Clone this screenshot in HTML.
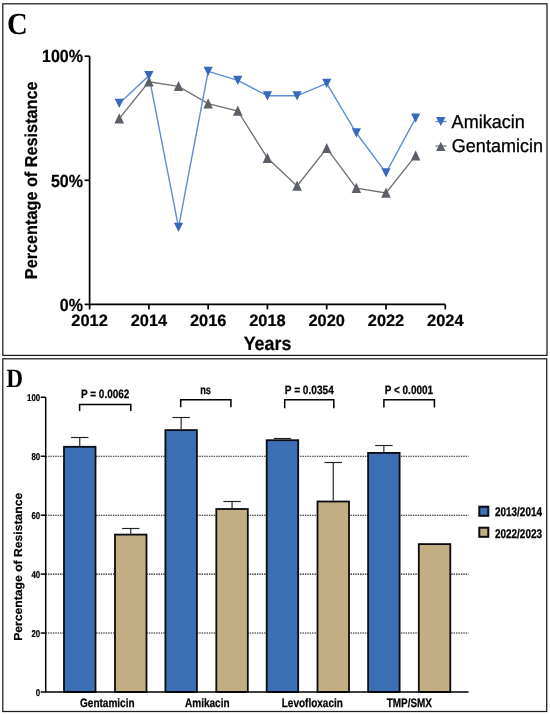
<!DOCTYPE html>
<html><head><meta charset="utf-8"><title>Percentage of Resistance</title>
<style>html,body{margin:0;padding:0;background:#fff;}svg{display:block;text-rendering:geometricPrecision;}</style></head>
<body><svg width="550" height="715" viewBox="0 0 550 715">
<rect width="550" height="715" fill="#fff"/>
<rect x="2.8" y="3.8" width="544.2" height="351.6" fill="none" stroke="#1e1e1e" stroke-width="1.25"/>
<text x="0" y="0" transform="translate(7.0,34.0) scale(0.94,1)" font-family='"Liberation Serif", "Times New Roman", serif' font-weight="bold" font-size="30.5">C</text>
<polyline points="119.24,118.60 148.88,81.80 178.52,86.30 208.16,103.60 237.80,111.00 267.44,158.10 297.08,186.00 326.72,148.30 356.36,188.10 386.00,193.00 415.64,155.70" fill="none" stroke="#727272" stroke-width="1.35"/>
<polyline points="119.24,103.40 148.88,75.70 178.52,227.40 208.16,71.30 237.80,80.40 267.44,95.80 297.08,95.80 326.72,83.40 356.36,133.00 386.00,172.80 415.64,118.20" fill="none" stroke="#5d8dd4" stroke-width="1.4"/>
<polygon points="114.49,123.40 123.99,123.40 119.24,113.20" fill="#5b6068"/>
<polygon points="144.13,86.60 153.63,86.60 148.88,76.40" fill="#5b6068"/>
<polygon points="173.77,91.10 183.27,91.10 178.52,80.90" fill="#5b6068"/>
<polygon points="203.41,108.40 212.91,108.40 208.16,98.20" fill="#5b6068"/>
<polygon points="233.05,115.80 242.55,115.80 237.80,105.60" fill="#5b6068"/>
<polygon points="262.69,162.90 272.19,162.90 267.44,152.70" fill="#5b6068"/>
<polygon points="292.33,190.80 301.83,190.80 297.08,180.60" fill="#5b6068"/>
<polygon points="321.97,153.10 331.47,153.10 326.72,142.90" fill="#5b6068"/>
<polygon points="351.61,192.90 361.11,192.90 356.36,182.70" fill="#5b6068"/>
<polygon points="381.25,197.80 390.75,197.80 386.00,187.60" fill="#5b6068"/>
<polygon points="410.89,160.50 420.39,160.50 415.64,150.30" fill="#5b6068"/>
<polygon points="114.64,98.75 123.84,98.75 119.24,108.05" fill="#3868be"/>
<polygon points="144.28,71.05 153.48,71.05 148.88,80.35" fill="#3868be"/>
<polygon points="173.92,222.75 183.12,222.75 178.52,232.05" fill="#3868be"/>
<polygon points="203.56,66.65 212.76,66.65 208.16,75.95" fill="#3868be"/>
<polygon points="233.20,75.75 242.40,75.75 237.80,85.05" fill="#3868be"/>
<polygon points="262.84,91.15 272.04,91.15 267.44,100.45" fill="#3868be"/>
<polygon points="292.48,91.15 301.68,91.15 297.08,100.45" fill="#3868be"/>
<polygon points="322.12,78.75 331.32,78.75 326.72,88.05" fill="#3868be"/>
<polygon points="351.76,128.35 360.96,128.35 356.36,137.65" fill="#3868be"/>
<polygon points="381.40,168.15 390.60,168.15 386.00,177.45" fill="#3868be"/>
<polygon points="411.04,113.55 420.24,113.55 415.64,122.85" fill="#3868be"/>
<path d="M89.6,56.20 V304.4 H445.28" fill="none" stroke="#000" stroke-width="1.7"/>
<line x1="84.60" y1="56.20" x2="89.6" y2="56.20" stroke="#000" stroke-width="1.7"/>
<text x="0" y="0" transform="translate(83.00,62.40) scale(0.91,1)" text-anchor="end" font-family='"Liberation Sans", Arial, sans-serif' font-weight="bold" font-size="17.6" stroke="#000" stroke-width="0.22">100%</text>
<line x1="84.60" y1="180.30" x2="89.6" y2="180.30" stroke="#000" stroke-width="1.7"/>
<text x="0" y="0" transform="translate(83.00,186.50) scale(0.91,1)" text-anchor="end" font-family='"Liberation Sans", Arial, sans-serif' font-weight="bold" font-size="17.6" stroke="#000" stroke-width="0.22">50%</text>
<line x1="84.60" y1="304.40" x2="89.6" y2="304.40" stroke="#000" stroke-width="1.7"/>
<text x="0" y="0" transform="translate(83.00,310.60) scale(0.91,1)" text-anchor="end" font-family='"Liberation Sans", Arial, sans-serif' font-weight="bold" font-size="17.6" stroke="#000" stroke-width="0.22">0%</text>
<line x1="89.60" y1="304.4" x2="89.60" y2="309.4" stroke="#000" stroke-width="1.7"/>
<text x="0" y="0" transform="translate(89.60,326.30) scale(1.0,1)" text-anchor="middle" font-family='"Liberation Sans", Arial, sans-serif' font-weight="bold" font-size="16.4" stroke="#000" stroke-width="0.22">2012</text>
<line x1="148.88" y1="304.4" x2="148.88" y2="309.4" stroke="#000" stroke-width="1.7"/>
<text x="0" y="0" transform="translate(148.88,326.30) scale(1.0,1)" text-anchor="middle" font-family='"Liberation Sans", Arial, sans-serif' font-weight="bold" font-size="16.4" stroke="#000" stroke-width="0.22">2014</text>
<line x1="208.16" y1="304.4" x2="208.16" y2="309.4" stroke="#000" stroke-width="1.7"/>
<text x="0" y="0" transform="translate(208.16,326.30) scale(1.0,1)" text-anchor="middle" font-family='"Liberation Sans", Arial, sans-serif' font-weight="bold" font-size="16.4" stroke="#000" stroke-width="0.22">2016</text>
<line x1="267.44" y1="304.4" x2="267.44" y2="309.4" stroke="#000" stroke-width="1.7"/>
<text x="0" y="0" transform="translate(267.44,326.30) scale(1.0,1)" text-anchor="middle" font-family='"Liberation Sans", Arial, sans-serif' font-weight="bold" font-size="16.4" stroke="#000" stroke-width="0.22">2018</text>
<line x1="326.72" y1="304.4" x2="326.72" y2="309.4" stroke="#000" stroke-width="1.7"/>
<text x="0" y="0" transform="translate(326.72,326.30) scale(1.0,1)" text-anchor="middle" font-family='"Liberation Sans", Arial, sans-serif' font-weight="bold" font-size="16.4" stroke="#000" stroke-width="0.22">2020</text>
<line x1="386.00" y1="304.4" x2="386.00" y2="309.4" stroke="#000" stroke-width="1.7"/>
<text x="0" y="0" transform="translate(386.00,326.30) scale(1.0,1)" text-anchor="middle" font-family='"Liberation Sans", Arial, sans-serif' font-weight="bold" font-size="16.4" stroke="#000" stroke-width="0.22">2022</text>
<line x1="445.28" y1="304.4" x2="445.28" y2="309.4" stroke="#000" stroke-width="1.7"/>
<text x="0" y="0" transform="translate(445.28,326.30) scale(1.0,1)" text-anchor="middle" font-family='"Liberation Sans", Arial, sans-serif' font-weight="bold" font-size="16.4" stroke="#000" stroke-width="0.22">2024</text>
<text x="0" y="0" transform="translate(267.50,350.00) scale(0.93,1)" text-anchor="middle" font-family='"Liberation Sans", Arial, sans-serif' font-weight="bold" font-size="19.2" stroke="#000" stroke-width="0.22">Years</text>
<text transform="translate(37.4,180.3) rotate(-90) scale(0.94,1)" text-anchor="middle" font-family='"Liberation Sans", Arial, sans-serif' font-weight="bold" font-size="17.3" stroke="#000" stroke-width="0.22">Percentage of Resistance</text>
<line x1="435.5" y1="121.5" x2="446.5" y2="121.5" stroke="#5d8dd4" stroke-width="1.3"/>
<polygon points="436.10,116.90 445.50,116.90 440.80,126.10" fill="#3868be"/>
<line x1="435.5" y1="146" x2="446.5" y2="146" stroke="#727272" stroke-width="1.3"/>
<polygon points="436.10,150.90 445.50,150.90 440.80,141.70" fill="#5b6068"/>
<text x="0" y="0" transform="translate(451.60,127.90) scale(0.975,1)" text-anchor="start" font-family='"Liberation Sans", Arial, sans-serif' font-size="18.5" stroke="#000" stroke-width="0.3">Amikacin</text>
<text x="0" y="0" transform="translate(451.80,152.00) scale(0.975,1)" text-anchor="start" font-family='"Liberation Sans", Arial, sans-serif' font-size="18.5" stroke="#000" stroke-width="0.3">Gentamicin</text>
<rect x="2.8" y="358.8" width="543.9" height="352.7" fill="none" stroke="#1e1e1e" stroke-width="1.25"/>
<text x="0" y="0" transform="translate(6.2,386.6) scale(0.88,1)" font-family='"Liberation Serif", "Times New Roman", serif' font-weight="bold" font-size="26.5">D</text>
<line x1="45.7" y1="633.06" x2="468.6" y2="633.06" stroke="#111" stroke-width="1.1" stroke-dasharray="1.4,1.0"/>
<line x1="45.7" y1="574.12" x2="468.6" y2="574.12" stroke="#111" stroke-width="1.1" stroke-dasharray="1.4,1.0"/>
<line x1="45.7" y1="515.18" x2="468.6" y2="515.18" stroke="#111" stroke-width="1.1" stroke-dasharray="1.4,1.0"/>
<line x1="45.7" y1="456.24" x2="468.6" y2="456.24" stroke="#111" stroke-width="1.1" stroke-dasharray="1.4,1.0"/>
<line x1="79.75" y1="437.50" x2="79.75" y2="445.90" stroke="#222" stroke-width="1.15"/>
<line x1="71.05" y1="437.50" x2="88.45" y2="437.50" stroke="#222" stroke-width="1.15"/>
<rect x="64.00" y="446.80" width="31.50" height="245.20" fill="#3c6eb4" stroke="#0b0b12" stroke-width="1.8"/>
<line x1="130.75" y1="528.50" x2="130.75" y2="533.70" stroke="#222" stroke-width="1.15"/>
<line x1="122.05" y1="528.50" x2="139.45" y2="528.50" stroke="#222" stroke-width="1.15"/>
<rect x="115.00" y="534.60" width="31.50" height="157.40" fill="#c3ad82" stroke="#0b0b12" stroke-width="1.8"/>
<line x1="181.15" y1="417.50" x2="181.15" y2="429.20" stroke="#222" stroke-width="1.15"/>
<line x1="172.45" y1="417.50" x2="189.85" y2="417.50" stroke="#222" stroke-width="1.15"/>
<rect x="165.40" y="430.10" width="31.50" height="261.90" fill="#3c6eb4" stroke="#0b0b12" stroke-width="1.8"/>
<line x1="232.05" y1="501.50" x2="232.05" y2="508.10" stroke="#222" stroke-width="1.15"/>
<line x1="223.35" y1="501.50" x2="240.75" y2="501.50" stroke="#222" stroke-width="1.15"/>
<rect x="216.30" y="509.00" width="31.50" height="183.00" fill="#c3ad82" stroke="#0b0b12" stroke-width="1.8"/>
<line x1="282.45" y1="438.50" x2="282.45" y2="439.30" stroke="#222" stroke-width="1.15"/>
<line x1="273.75" y1="438.50" x2="291.15" y2="438.50" stroke="#222" stroke-width="1.15"/>
<rect x="266.70" y="440.20" width="31.50" height="251.80" fill="#3c6eb4" stroke="#0b0b12" stroke-width="1.8"/>
<line x1="333.25" y1="462.50" x2="333.25" y2="500.60" stroke="#222" stroke-width="1.15"/>
<line x1="324.55" y1="462.50" x2="341.95" y2="462.50" stroke="#222" stroke-width="1.15"/>
<rect x="317.50" y="501.50" width="31.50" height="190.50" fill="#c3ad82" stroke="#0b0b12" stroke-width="1.8"/>
<line x1="383.85" y1="445.50" x2="383.85" y2="452.00" stroke="#222" stroke-width="1.15"/>
<line x1="375.15" y1="445.50" x2="392.55" y2="445.50" stroke="#222" stroke-width="1.15"/>
<rect x="368.10" y="452.90" width="31.50" height="239.10" fill="#3c6eb4" stroke="#0b0b12" stroke-width="1.8"/>
<rect x="418.80" y="544.10" width="31.50" height="147.90" fill="#c3ad82" stroke="#0b0b12" stroke-width="1.8"/>
<path d="M45.7,397.30 V692.0 H468.6" fill="none" stroke="#000" stroke-width="1.5"/>
<line x1="40.70" y1="692.00" x2="45.7" y2="692.00" stroke="#000" stroke-width="1.5"/>
<text x="40.2" y="695.60" text-anchor="end" font-family='"Liberation Sans", Arial, sans-serif' font-weight="bold" font-size="9.9" stroke="#000" stroke-width="0.2" transform="translate(40.2,0) scale(0.8,1) translate(-40.2,0)">0</text>
<line x1="40.70" y1="633.06" x2="45.7" y2="633.06" stroke="#000" stroke-width="1.5"/>
<text x="40.2" y="636.66" text-anchor="end" font-family='"Liberation Sans", Arial, sans-serif' font-weight="bold" font-size="9.9" stroke="#000" stroke-width="0.2" transform="translate(40.2,0) scale(0.8,1) translate(-40.2,0)">20</text>
<line x1="40.70" y1="574.12" x2="45.7" y2="574.12" stroke="#000" stroke-width="1.5"/>
<text x="40.2" y="577.72" text-anchor="end" font-family='"Liberation Sans", Arial, sans-serif' font-weight="bold" font-size="9.9" stroke="#000" stroke-width="0.2" transform="translate(40.2,0) scale(0.8,1) translate(-40.2,0)">40</text>
<line x1="40.70" y1="515.18" x2="45.7" y2="515.18" stroke="#000" stroke-width="1.5"/>
<text x="40.2" y="518.78" text-anchor="end" font-family='"Liberation Sans", Arial, sans-serif' font-weight="bold" font-size="9.9" stroke="#000" stroke-width="0.2" transform="translate(40.2,0) scale(0.8,1) translate(-40.2,0)">60</text>
<line x1="40.70" y1="456.24" x2="45.7" y2="456.24" stroke="#000" stroke-width="1.5"/>
<text x="40.2" y="459.84" text-anchor="end" font-family='"Liberation Sans", Arial, sans-serif' font-weight="bold" font-size="9.9" stroke="#000" stroke-width="0.2" transform="translate(40.2,0) scale(0.8,1) translate(-40.2,0)">80</text>
<line x1="40.70" y1="397.30" x2="45.7" y2="397.30" stroke="#000" stroke-width="1.5"/>
<text x="40.2" y="400.90" text-anchor="end" font-family='"Liberation Sans", Arial, sans-serif' font-weight="bold" font-size="9.9" stroke="#000" stroke-width="0.2" transform="translate(40.2,0) scale(0.8,1) translate(-40.2,0)">100</text>
<path d="M79.6,411 V404.4 H130.8 V411" fill="none" stroke="#000" stroke-width="1.5"/>
<text x="105.20" y="397.80" text-anchor="middle" font-family='"Liberation Sans", Arial, sans-serif' font-weight="bold" font-size="12.1" textLength="48.4" lengthAdjust="spacingAndGlyphs" stroke="#000" stroke-width="0.25">P = 0.0062</text>
<path d="M180.7,407.3 V399.7 H230.9 V407.3" fill="none" stroke="#000" stroke-width="1.5"/>
<text x="205.60" y="393.60" text-anchor="middle" font-family='"Liberation Sans", Arial, sans-serif' font-weight="bold" font-size="12.1" textLength="10.8" lengthAdjust="spacingAndGlyphs" stroke="#000" stroke-width="0.25">ns</text>
<path d="M284.7,408.3 V399.7 H333.8 V408.3" fill="none" stroke="#000" stroke-width="1.5"/>
<text x="309.30" y="394.10" text-anchor="middle" font-family='"Liberation Sans", Arial, sans-serif' font-weight="bold" font-size="12.1" textLength="49.1" lengthAdjust="spacingAndGlyphs" stroke="#000" stroke-width="0.25">P = 0.0354</text>
<path d="M383.9,407.6 V399.7 H434.4 V407.6" fill="none" stroke="#000" stroke-width="1.5"/>
<text x="408.90" y="394.10" text-anchor="middle" font-family='"Liberation Sans", Arial, sans-serif' font-weight="bold" font-size="12.1" textLength="48.3" lengthAdjust="spacingAndGlyphs" stroke="#000" stroke-width="0.25">P &lt; 0.0001</text>
<text x="107.30" y="707.30" text-anchor="middle" font-family='"Liberation Sans", Arial, sans-serif' font-weight="bold" font-size="12.2" textLength="54.5" lengthAdjust="spacingAndGlyphs" stroke="#000" stroke-width="0.25">Gentamicin</text>
<text x="207.30" y="707.30" text-anchor="middle" font-family='"Liberation Sans", Arial, sans-serif' font-weight="bold" font-size="12.2" textLength="44.5" lengthAdjust="spacingAndGlyphs" stroke="#000" stroke-width="0.25">Amikacin</text>
<text x="312.30" y="707.30" text-anchor="middle" font-family='"Liberation Sans", Arial, sans-serif' font-weight="bold" font-size="12.2" textLength="61.1" lengthAdjust="spacingAndGlyphs" stroke="#000" stroke-width="0.25">Levofloxacin</text>
<text x="409.30" y="707.30" text-anchor="middle" font-family='"Liberation Sans", Arial, sans-serif' font-weight="bold" font-size="12.2" textLength="45.3" lengthAdjust="spacingAndGlyphs" stroke="#000" stroke-width="0.25">TMP/SMX</text>
<text transform="translate(21.8,566.8) rotate(-90)" text-anchor="middle" font-family='"Liberation Sans", Arial, sans-serif' font-weight="bold" font-size="11.6" textLength="148" lengthAdjust="spacingAndGlyphs" stroke="#000" stroke-width="0.2">Percentage of Resistance</text>
<rect x="479.3" y="506.7" width="9" height="9.1" fill="#3c6eb4" stroke="#0b0b12" stroke-width="2"/>
<rect x="479.3" y="527.7" width="9" height="9.1" fill="#c3ad82" stroke="#0b0b12" stroke-width="2"/>
<text x="495.0" y="516.2" font-family='"Liberation Sans", Arial, sans-serif' font-weight="bold" font-size="12.6" textLength="47.0" lengthAdjust="spacingAndGlyphs" stroke="#000" stroke-width="0.3">2013/2014</text>
<text x="495.0" y="537.5" font-family='"Liberation Sans", Arial, sans-serif' font-weight="bold" font-size="12.6" textLength="47.0" lengthAdjust="spacingAndGlyphs" stroke="#000" stroke-width="0.3">2022/2023</text>
</svg></body></html>
